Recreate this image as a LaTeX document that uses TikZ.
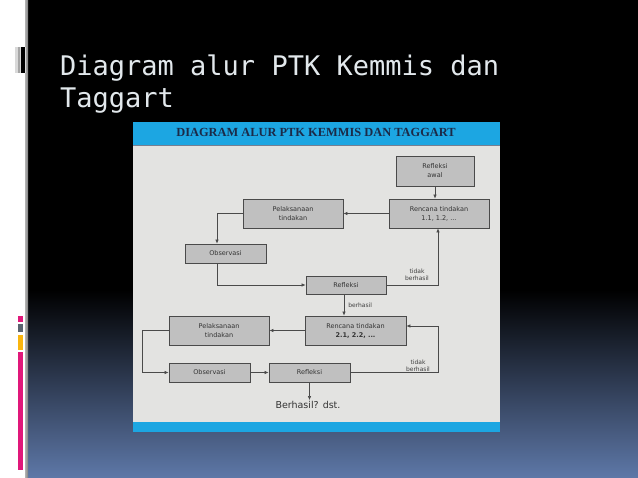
\documentclass[tikz,border=0pt]{standalone}
\usepackage{fontspec}
\usetikzlibrary{arrows.meta}
\newfontfamily\slidefont{DejaVu Sans Mono}
\newfontfamily\boxfont{DejaVu Sans}
\newfontfamily\headfont{Liberation Serif}
\definecolor{slideblue}{HTML}{5E78A8}
\definecolor{titlegray}{HTML}{E2E8EC}
\definecolor{headblue}{HTML}{1CA6E2}
\definecolor{headtext}{HTML}{1B2A48}
\definecolor{paper}{HTML}{E3E3E1}
\definecolor{boxgray}{HTML}{C0C0C0}
\definecolor{boxline}{HTML}{4A4A4A}
\definecolor{barpink}{HTML}{E0187A}
\definecolor{barorange}{HTML}{F9B50F}
\definecolor{bargray}{HTML}{5A6470}

\begin{document}
\begin{tikzpicture}[x=1pt,y=-1pt,
  box/.style={draw=boxline,fill=boxgray,line width=0.8pt,inner sep=0pt,align=center,
    text=black!80,font=\boxfont\fontsize{6.5}{9}\selectfont},
  flow/.style={draw=boxline,line width=0.6pt,-{Latex[length=4pt,width=3.5pt]}},
  note/.style={font=\boxfont\fontsize{6}{7.5}\selectfont,align=center,inner sep=1pt,text=black!75}]
\useasboundingbox (0,0) rectangle (638,478);

% slide background
\fill[white] (0,0) rectangle (28,478);
\fill[black] (28,0) rectangle (638,290);
\shade[top color=black,bottom color=slideblue] (28,290) rectangle (638,478);
\shade[left color=gray!60,right color=gray] (25,0) rectangle (28,478);

% side marks
\fill[gray!30] (15,47) rectangle (26,73);
\fill[gray!70] (18,47) rectangle (20,73);
\fill[black] (21,47) rectangle (25,73);
\fill[barpink] (18,316) rectangle (23,322);
\fill[bargray] (18,324) rectangle (23,332);
\fill[barorange] (18,335) rectangle (23,350);
\fill[barpink] (18,352) rectangle (23,470);

% title
\node[anchor=base west,inner sep=0pt,text=titlegray,font=\slidefont\fontsize{27}{33}\selectfont]
  (title1) at (60,76) {Diagram alur PTK Kemmis dan};
\node[anchor=base west,inner sep=0pt,text=titlegray,font=\slidefont\fontsize{27}{33}\selectfont]
  (title2) at (60,108) {Taggart};

% picture frame
\fill[paper] (133,122) rectangle (500,432);
\fill[headblue] (133,122) rectangle (500,145);
\draw[headtext!60,line width=0.6pt] (133,145) -- (500,145);
\fill[headblue] (133,422) rectangle (500,432);
\node[font=\headfont\bfseries\fontsize{12.4}{14}\selectfont,text=headtext] (head) at (316,132)
  {DIAGRAM ALUR PTK KEMMIS DAN TAGGART};

% cycle 1
\node[box,minimum width=78pt,minimum height=30pt] (refawal) at (435,171) {Refleksi\\awal};
\node[box,minimum width=100pt,minimum height=29pt] (ren1) at (439,213.5) {Rencana tindakan\\1.1, 1.2, ...};
\node[box,minimum width=100pt,minimum height=29pt] (pel1) at (293,213.5) {Pelaksanaan\\tindakan};
\node[box,minimum width=81pt,minimum height=19pt] (obs1) at (225.5,253.5) {Observasi};
\node[box,minimum width=80pt,minimum height=18pt] (ref1) at (346,285) {Refleksi};

% cycle 2
\node[box,minimum width=101pt,minimum height=29pt] (ren2) at (355.5,330.5) {Rencana tindakan\\\textbf{2.1, 2.2, ...}};
\node[box,minimum width=100pt,minimum height=29pt] (pel2) at (219,330.5) {Pelaksanaan\\tindakan};
\node[box,minimum width=81pt,minimum height=19pt] (obs2) at (209.5,372.5) {Observasi};
\node[box,minimum width=81pt,minimum height=19pt] (ref2) at (309.5,372.5) {Refleksi};
\node[font=\boxfont\fontsize{9.5}{11}\selectfont,text=black!80,inner sep=1pt] (dst) at (308,405) {Berhasil? dst.};

\coordinate (back2) at (438,326);

\draw[flow] (refawal.south) -- (refawal.south |- ren1.north);
\draw[flow] (ren1.west) -- (pel1.east);
\draw[flow] (pel1.west) -| ([xshift=-8.5pt]obs1.north);
\draw[flow] ([xshift=-8.5pt]obs1.south) |- (ref1.west);
\draw[flow] (ref1.east) -| ([xshift=-1pt]ren1.south);
\node[note] (gagal1) at (417,275) {tidak\\berhasil};
\draw[flow] ([xshift=-2pt]ref1.south) -- ([xshift=-2pt]ref1.south |- ren2.north)
  node[note,midway,right=3pt] (lulus1) {berhasil};
\draw[flow] (ren2.west) -- (pel2.east);
\draw[flow] (pel2.west) -- ++(-26,0) |- (obs2.west);
\draw[flow] (obs2.east) -- (ref2.west);
\draw[flow] (ref2.south) -- (ref2.south |- dst.north);
\draw[flow] (ref2.east) -| (back2) -- (back2 -| ren2.east);
\node[note] (gagal2) at (418,366) {tidak\\berhasil};
\end{tikzpicture}
\end{document}
